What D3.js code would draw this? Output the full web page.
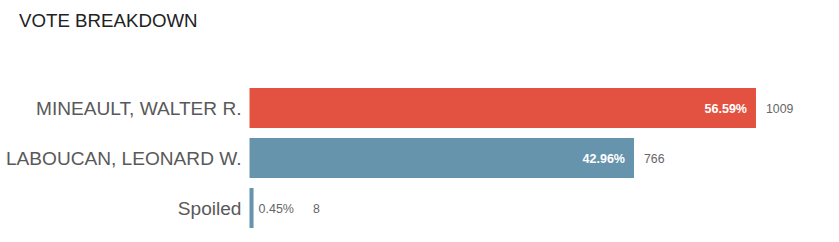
<!DOCTYPE html>
<html>
<head>
<meta charset="utf-8">
<script src="https://cdn.jsdelivr.net/npm/d3@7"></script>
<style>
  html, body { margin: 0; padding: 0; background: #fff; }
  svg { display: block; font-family: "Liberation Sans", Arial, sans-serif; }
</style>
</head>
<body>
<svg id="chart" width="839" height="242"></svg>
<script>
const title = "VOTE BREAKDOWN";
const candidates = ["MINEAULT, WALTER R.", "LABOUCAN, LEONARD W.", "Spoiled"];
const percents = [56.59, 42.96, 0.45];
const votes = [1009, 766, 8];
const barColors = ["#e35241", "#6794ad", "#6794ad"];

const svg = d3.select("#chart");

svg.append("text")
  .attr("x", 19).attr("y", 27)
  .attr("font-size", 18.7)
  .attr("fill", "#222")
  .text(title);

const data = candidates.map((c, i) => ({ name: c, pct: percents[i], votes: votes[i], color: barColors[i] }));

const x = d3.scaleLinear().domain([0, 100]).range([249.5, 249.5 + 895]);
const y = d3.scaleBand().domain(candidates).range([83, 233]).paddingInner(0.2).paddingOuter(0.1);

const g = svg.append("g");

// category labels
g.selectAll(".cat").data(data).enter().append("text")
  .attr("class", "cat")
  .attr("x", x(0) - 8)
  .attr("y", d => y(d.name) + y.bandwidth() / 2 + 0.5)
  .attr("dy", "0.35em")
  .attr("text-anchor", "end")
  .attr("font-size", 19.1)
  .attr("fill", "#595959")
  .text(d => d.name);

// bars
g.selectAll(".bar").data(data).enter().append("rect")
  .attr("class", "bar")
  .attr("x", x(0))
  .attr("y", d => y(d.name))
  .attr("width", d => x(d.pct) - x(0))
  .attr("height", y.bandwidth())
  .attr("fill", d => d.color);

// labels
data.forEach(d => {
  const cy = y(d.name) + y.bandwidth() / 2 + 1;
  const end = x(d.pct);
  const inside = (end - x(0)) > 60;
  let countX;
  if (inside) {
    g.append("text")
      .attr("x", end - 9)
      .attr("y", cy).attr("dy", "0.35em")
      .attr("text-anchor", "end")
      .attr("font-size", 12.5)
      .attr("font-weight", "bold")
      .attr("fill", "#fff")
      .text(d3.format(".2f")(d.pct) + "%");
    countX = end + 10;
  } else {
    const t = g.append("text")
      .attr("x", end + 5)
      .attr("y", cy).attr("dy", "0.35em")
      .attr("font-size", 12.5)
      .attr("fill", "#666")
      .text(d3.format(".2f")(d.pct) + "%");
    countX = end + 5 + t.node().getComputedTextLength() + 19;
  }
  g.append("text")
    .attr("x", countX)
    .attr("y", cy).attr("dy", "0.35em")
    .attr("font-size", 12.3)
    .attr("fill", "#666")
    .text(d.votes);
});
</script>
</body>
</html>
